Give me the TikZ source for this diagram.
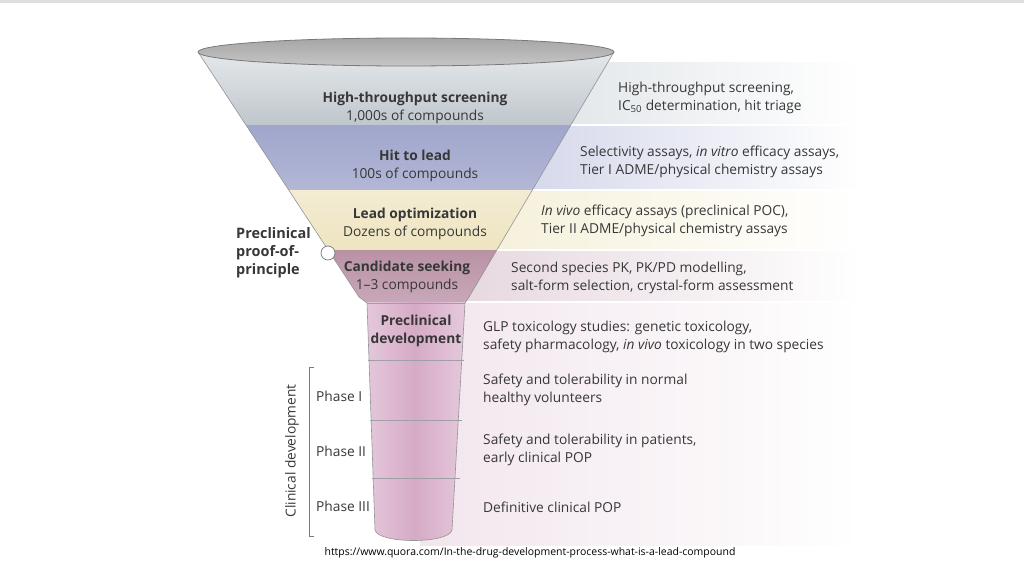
\documentclass[tikz,border=0pt]{standalone}
\usepackage{fontspec}
\setmainfont{Open Sans}
\definecolor{txt}{RGB}{55,55,55}
\definecolor{htsIn}{RGB}{190,198,204}
\definecolor{htsOut}{RGB}{214,220,224}
\definecolor{hitIn}{RGB}{160,166,204}
\definecolor{hitOut}{RGB}{200,204,228}
\definecolor{leadIn}{RGB}{238,228,192}
\definecolor{leadOut}{RGB}{244,238,212}
\definecolor{candIn}{RGB}{186,146,166}
\definecolor{candOut}{RGB}{228,212,220}
\definecolor{neckIn}{RGB}{214,170,198}
\definecolor{neckOut}{RGB}{242,230,237}
\definecolor{rim}{RGB}{120,120,125}
\begin{document}
\begin{tikzpicture}[x=1bp,y=-1bp,
  lab/.style={text=txt,font=\fontsize{13.8}{18}\selectfont,align=left,anchor=west,inner sep=0pt},
  ctr/.style={text=txt,font=\fontsize{13.8}{18}\selectfont,align=center,inner sep=0pt},
  sep/.style={draw=rim!70,line width=0.6pt}]
\useasboundingbox (0,0) rectangle (1024,576);
\fill[gray!25] (0,0) rectangle (1024,3);
% right bands
\shade[left color=htsOut,right color=white] (420,63) rectangle (860,124);
\shade[left color=hitOut,right color=white] (420,127) rectangle (860,189);
\shade[left color=leadOut,right color=white] (420,192) rectangle (860,249);
\shade[left color=candOut,right color=white] (420,252) rectangle (860,300);
\shade[left color=neckOut,right color=white] (420,303) rectangle (860,545);
% funnel interior
\begin{scope}
\clip (198,52) -- (359,297) -- (367,303) -- (375,530) .. controls (378,544) and (449,544) .. (452,530) -- (465,303) -- (469,297) -- (614,52) -- cycle;
\shade[top color=white!60!htsIn,bottom color=htsIn] (190,52) rectangle (620,126);
\shade[top color=hitIn,bottom color=hitIn!80!white] (190,126) rectangle (620,191);
\shade[top color=leadIn!70!white,bottom color=leadIn] (190,191) rectangle (620,251);
\shade[top color=candIn,bottom color=candIn!80!white] (190,251) rectangle (620,302);
\shade[left color=neckIn!60!white,right color=neckIn!60!white,middle color=neckIn] (360,302) rectangle (470,550);
\end{scope}
\draw[rim!80,line width=0.6pt] (198,52) -- (359,297) -- (367,303) -- (375,530) .. controls (378,544) and (449,544) .. (452,530) -- (465,303) -- (469,297) -- (614,52);
\draw[sep] (368,360) -- (464,360);
\draw[sep] (370,420) -- (462,420);
\draw[sep] (372,478) -- (460,478);
\draw[sep] (367,303) -- (465,303);
% top ellipse
\shade[top color=gray!70,bottom color=gray!45,draw=rim,line width=0.8pt] (406,52) ellipse [x radius=208,y radius=14];
% circle marker
\draw[rim,fill=white,line width=0.7pt] (328,253) circle [radius=7];
% bracket
\draw[rim,line width=0.7pt] (314,367) -- (309,367) -- (309,536) -- (314,536);
\node[ctr,rotate=90] (clin) at (292,451) {Clinical development};
% funnel labels
\node[ctr] (hts) at (415,108) {\textbf{High-throughput screening}\\1,000s of compounds};
\node[ctr] (hit) at (415,166) {\textbf{Hit to lead}\\100s of compounds};
\node[ctr] (lead) at (415,224) {\textbf{Lead optimization}\\Dozens of compounds};
\node[ctr] (cand) at (407,277) {\textbf{Candidate seeking}\\1–3 compounds};
\node[ctr] (pre) at (416,331) {\textbf{Preclinical}\\\textbf{development}};
\node[lab,font=\fontsize{14.5}{18}\selectfont] (ppp) at (236,253) {\textbf{Preclinical}\\\textbf{proof-of-}\\\textbf{principle}};
\node[lab] (p1) at (316,396) {Phase I};
\node[lab] (p2) at (316,451) {Phase II};
\node[lab] (p3) at (316,506) {Phase III};
% right labels
\node[lab] (r1) at (618,98) {High-throughput screening,\\IC$_{\mathrm{50}}$ determination, hit triage};
\node[lab] (r2) at (580,162) {Selectivity assays, \textit{in vitro} efficacy assays,\\Tier I ADME/physical chemistry assays};
\node[lab] (r3) at (541,221) {\textit{In vivo} efficacy assays (preclinical POC),\\Tier II ADME/physical chemistry assays};
\node[lab] (r4) at (511,278) {Second species PK, PK/PD modelling,\\salt-form selection, crystal-form assessment};
\node[lab] (r5) at (483,337) {GLP toxicology studies: genetic toxicology,\\safety pharmacology, \textit{in vivo} toxicology in two species};
\node[lab] (r6) at (483,390) {Safety and tolerability in normal\\healthy volunteers};
\node[lab] (r7) at (483,450) {Safety and tolerability in patients,\\early clinical POP};
\node[lab] (r8) at (483,507) {Definitive clinical POP};
\node[inner sep=0pt,font=\fontsize{10.5}{12}\selectfont] (url) at (530,553) {https://www.quora.com/In-the-drug-development-process-what-is-a-lead-compound};
\end{tikzpicture}
\end{document}
